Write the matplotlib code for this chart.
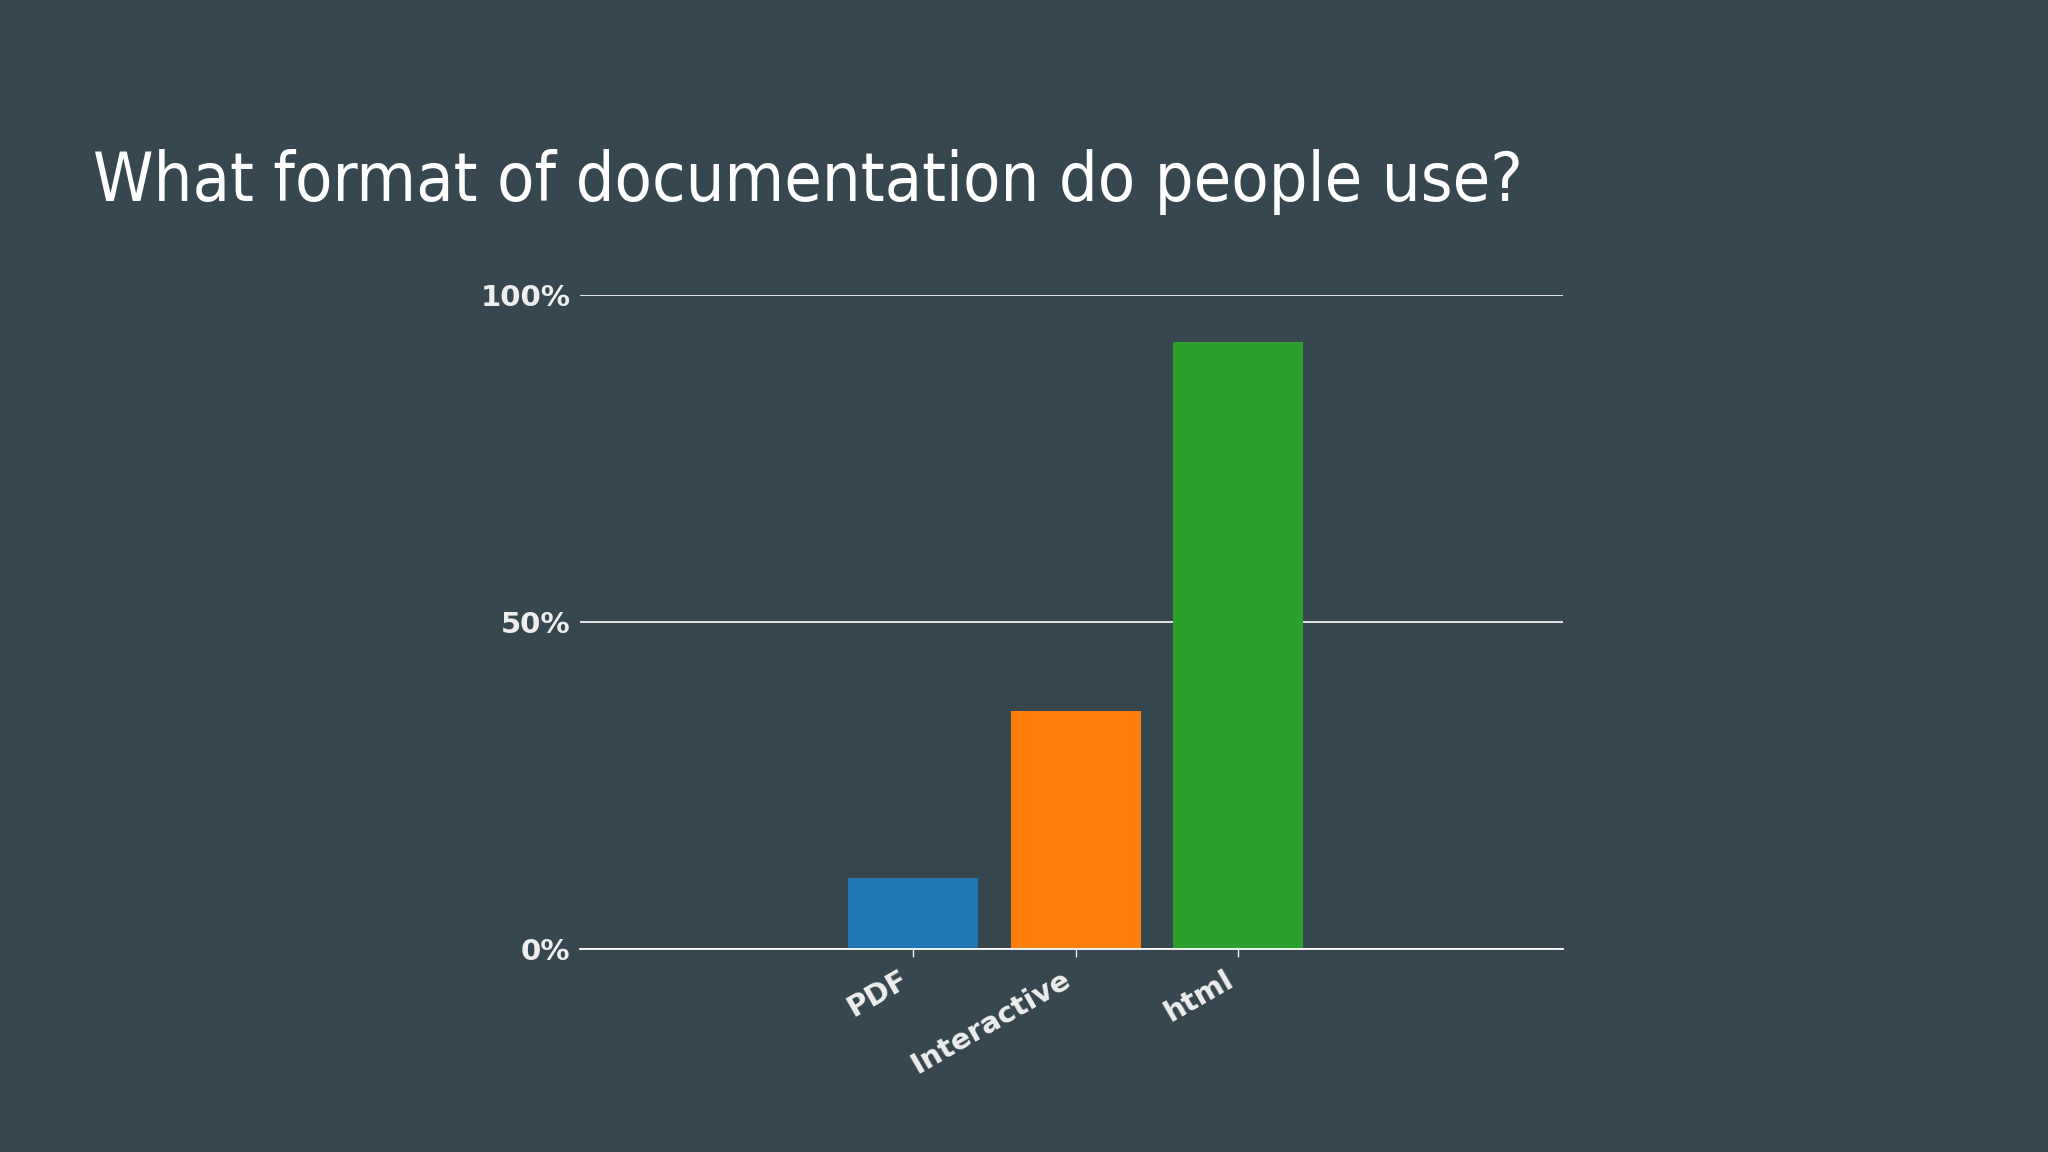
import matplotlib
matplotlib.use("Agg")
import matplotlib.pyplot as plt
from matplotlib import font_manager as fm

# Data
categories = ["PDF", "Interactive", "html"]
shares = [10.9, 36.4, 92.8]
bar_colors = ["#1f77b4", "#ff7f0e", "#2ca02c"]
ytick_values = [0, 50, 100]
ytick_labels = ["0%", "50%", "100%"]
title = "What format of documentation do people use?"

BG = "#37474f"
FG = "#eeeeee"

fig = plt.figure(figsize=(20.48, 11.52), dpi=100, facecolor=BG)
ax = fig.add_axes([580 / 2048, 1 - 949 / 1152, (1563 - 580) / 2048, (949 - 295) / 1152])
ax.set_facecolor(BG)

x = list(range(len(categories)))
ax.bar(x, shares, width=0.8, color=bar_colors, zorder=2)

ax.set_xlim(-2.05, 4.0)
ax.set_ylim(0, 100)
ax.set_yticks(ytick_values)
ax.set_yticklabels(ytick_labels)
ax.set_xticks(x)
ax.set_xticklabels(categories, rotation=30, ha="right", rotation_mode="default")

ax.set_axisbelow(True)
ax.yaxis.grid(True, color="white", linewidth=1.2)
ax.xaxis.grid(False)

for side in ["top", "left", "right"]:
    ax.spines[side].set_visible(False)
ax.spines["bottom"].set_color("white")
ax.spines["bottom"].set_linewidth(1.3)
ax.spines["bottom"].set_zorder(3)

ax.tick_params(axis="y", length=0, pad=7, labelsize=21, labelcolor=FG)
ax.tick_params(axis="x", length=6, width=1, color=FG, pad=6, labelsize=21, labelcolor=FG)
for lab in ax.get_xticklabels() + ax.get_yticklabels():
    lab.set_fontweight("bold")
    lab.set_family("DejaVu Sans")

# Title: prefer a condensed face, then fit to the reference width
stretch = "normal"
try:
    f = fm.findfont(fm.FontProperties(family="DejaVu Sans", stretch="condensed"), fallback_to_default=True)
    if "ondensed" in f:
        stretch = "condensed"
except Exception:
    pass

t = fig.text(93 / 2048, 1 - 201 / 1152, title, color="white", fontsize=70,
             family="DejaVu Sans", fontstretch=stretch, va="baseline", ha="left")
fig.canvas.draw()
r = fig.canvas.get_renderer()
w = t.get_window_extent(r).width
target = 1430.0
t.set_fontsize(70 * target / w)

fig.savefig("out.png", dpi=100, facecolor=BG)
